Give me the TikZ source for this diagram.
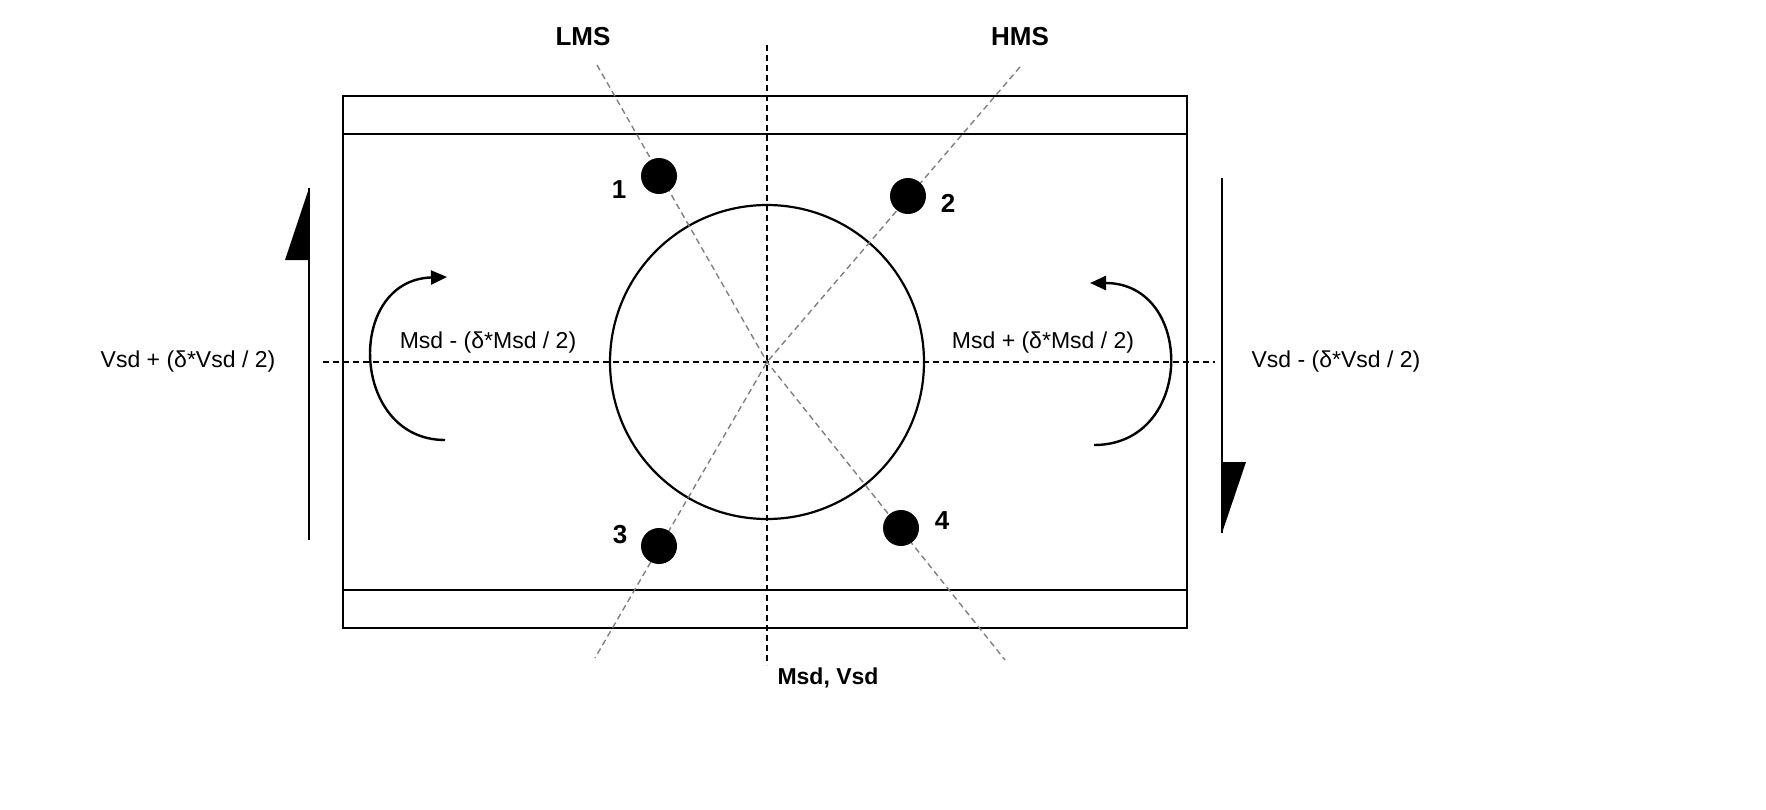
\documentclass[tikz,border=0pt]{standalone}
\usepackage{fontspec}
\setmainfont{Liberation Sans}
\usetikzlibrary{arrows.meta}
\begin{document}
\begin{tikzpicture}[x=0.5pt,y=-0.5pt,
  solid line/.style={line width=1.3pt},
  ctr dash/.style={dashed,line width=0.7pt,dash pattern=on 3pt off 2pt},
  gray dash/.style={dashed,gray,line width=0.7pt,dash pattern=on 3pt off 2pt},
  bolt/.style={circle,fill=black,minimum size=18pt,inner sep=0pt},
  num/.style={font=\bfseries\fontsize{13}{15}\selectfont},
  lbl/.style={font=\fontsize{11.5}{13}\selectfont},
  moment/.style={line width=1.2pt,-{Triangle[length=8pt,width=7pt]}}]
\useasboundingbox (0,0) rectangle (1766,809);
% plate
\draw[solid line] (343,96) rectangle (1187,628);
\draw[solid line] (343,134) -- (1187,134);
\draw[solid line] (343,590) -- (1187,590);
% circle
\node[draw,circle,line width=1.1pt,minimum size=157pt,inner sep=0pt] (c) at (767,362) {};
% axes
\coordinate (vt) at (767,45); \coordinate (vb) at (767,665);
\coordinate (hl) at (323,362); \coordinate (hr) at (1215,362);
\draw[ctr dash] (vt) -- (vb);
\draw[ctr dash] (hl) -- (hr);
\coordinate (l1) at (597,65); \coordinate (l2) at (1005,660);
\coordinate (h1) at (1020,67); \coordinate (h2) at (595,658);
\draw[gray dash] (l1) -- (c.center) -- (l2);
\draw[gray dash] (h1) -- (c.center) -- (h2);
% bolts
\node[bolt] (b1) at (659,176) {};
\node[bolt] (b2) at (908,196) {};
\node[bolt] (b3) at (659,546) {};
\node[bolt] (b4) at (901,528) {};
\node[num] (n1) at (619,190) {1};
\node[num] (n2) at (948,203) {2};
\node[num] (n3) at (620,535) {3};
\node[num] (n4) at (942,521) {4};
\node[num] (lms) at (583,37) {LMS};
\node[num] (hms) at (1020,37) {HMS};
\node[num,font=\bfseries\fontsize{11.5}{13}\selectfont] (mv) at (828,678) {Msd, Vsd};
% shear arrows
\coordinate (la) at (309,540); \coordinate (lb) at (309,188);
\draw[line width=1.4pt] (la) -- (lb);
\fill (309,188) -- (309,260) -- (285,260) -- cycle;
\coordinate (ra) at (1222,178); \coordinate (rb) at (1222,533);
\draw[line width=1.4pt] (ra) -- (rb);
\fill (1222,533) -- (1222,462) -- (1246,462) -- cycle;
% moments
\coordinate (m1s) at (445,440); \coordinate (m1e) at (447,277);
\draw[moment] (m1s) .. controls (350,440) and (345,280) .. (m1e);
\coordinate (m2s) at (1094,445); \coordinate (m2e) at (1090,283);
\draw[moment] (m2s) .. controls (1195,445) and (1195,283) .. (m2e);
% labels
\node[lbl] (t1) at (488,343) {Msd - (δ*Msd / 2)};
\node[lbl] (t2) at (1043,343) {Msd + (δ*Msd / 2)};
\node[lbl] (t3) at (188,362) {Vsd + (δ*Vsd / 2)};
\node[lbl] (t4) at (1336,362) {Vsd - (δ*Vsd / 2)};
\end{tikzpicture}
\end{document}
